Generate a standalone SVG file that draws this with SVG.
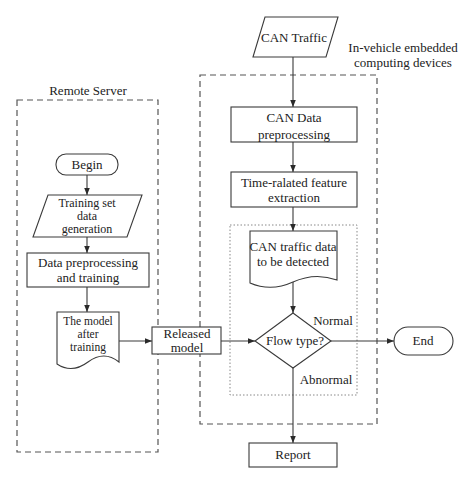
<svg xmlns="http://www.w3.org/2000/svg" width="474" height="484" viewBox="0 0 474 484">
<style>
text{font-family:"Liberation Serif","Times New Roman",serif;font-size:13px;fill:#222;text-anchor:middle}
.t{font-size:12px}
.s{font-size:11.5px}
.n{fill:#fff;stroke:#3a3a3a;stroke-width:1.1}
.c{fill:none;stroke:#3a3a3a;stroke-width:1.1}
.dash{fill:none;stroke:#555;stroke-width:1.2;stroke-dasharray:6,4}
.dot{fill:none;stroke:#888;stroke-width:1;stroke-dasharray:1.5,2}
</style>
<defs>
<marker id="ah" viewBox="0 0 8 8" refX="8" refY="4" markerWidth="7" markerHeight="7" markerUnits="userSpaceOnUse" orient="auto">
<path d="M0,0.8 L8,4 L0,7.2 Z" fill="#2a2a2a"/>
</marker>
</defs>
<rect width="474" height="484" fill="#fff"/>
<g id="containers">
<rect class="dash" x="17" y="100" width="141" height="352"/>
<text x="88" y="95">Remote Server</text>
<rect class="dash" x="200" y="75" width="177" height="349"/>
<text x="403" y="52">In-vehicle embedded</text>
<text x="403" y="67">computing devices</text>
<rect class="dot" x="230" y="225" width="127" height="170"/>
</g>
<g id="connectors">
<line class="c" x1="87" y1="175" x2="87" y2="195" marker-end="url(#ah)"/>
<line class="c" x1="87" y1="237" x2="87" y2="253" marker-end="url(#ah)"/>
<line class="c" x1="87" y1="287" x2="87" y2="312" marker-end="url(#ah)"/>
<line class="c" x1="115" y1="341" x2="152" y2="341" marker-end="url(#ah)"/>
<line class="c" x1="221" y1="341" x2="255" y2="341" marker-end="url(#ah)"/>
<line class="c" x1="293" y1="57" x2="293" y2="107" marker-end="url(#ah)"/>
<line class="c" x1="293" y1="142" x2="293" y2="172" marker-end="url(#ah)"/>
<line class="c" x1="293" y1="207" x2="293" y2="231" marker-end="url(#ah)"/>
<line class="c" x1="293" y1="282" x2="293" y2="313" marker-end="url(#ah)"/>
<line class="c" x1="331" y1="341" x2="394" y2="341" marker-end="url(#ah)"/>
<line class="c" x1="293" y1="368" x2="293" y2="443" marker-end="url(#ah)"/>
<text x="333" y="325">Normal</text>
<text x="326" y="384">Abnormal</text>
</g>
<g id="begin">
<rect class="n" x="56" y="154" width="62" height="21" rx="10"/>
<text x="87" y="169">Begin</text>
</g>
<g id="training-set">
<polygon class="n" points="48,195 142,195 127,237 33,237"/>
<text class="t" x="87" y="207">Training set</text>
<text class="t" x="87" y="220">data</text>
<text class="t" x="87" y="233">generation</text>
</g>
<g id="data-preprocessing">
<rect class="n" x="27" y="253" width="122" height="34"/>
<text x="88" y="267">Data preprocessing</text>
<text x="88" y="282">and training</text>
</g>
<g id="model-after-training">
<path class="n" d="M57,312 H119 V362 Q104,350 88,362 Q72,374 57,364 Z"/>
<text class="s" x="88" y="325">The model</text>
<text class="s" x="88" y="338">after</text>
<text class="s" x="88" y="351">training</text>
</g>
<g id="released-model">
<rect class="n" x="152" y="327" width="69" height="27"/>
<text x="187" y="338">Released</text>
<text x="187" y="352">model</text>
</g>
<g id="can-traffic">
<polygon class="n" points="265,17 338,17 326,57 253,57"/>
<text x="294" y="42">CAN Traffic</text>
</g>
<g id="can-data-preprocessing">
<rect class="n" x="231" y="107" width="126" height="35"/>
<text x="294" y="122">CAN Data</text>
<text x="294" y="139">preprocessing</text>
</g>
<g id="feature-extraction">
<rect class="n" x="231" y="172" width="126" height="35"/>
<text x="294" y="187">Time-ralated feature</text>
<text x="294" y="202">extraction</text>
</g>
<g id="can-traffic-data">
<path class="n" d="M250,231 H337 V280 Q315,272 293,282 Q271,292 250,283 Z"/>
<text x="293" y="251">CAN traffic data</text>
<text x="293" y="266">to be detected</text>
</g>
<g id="flow-type">
<polygon class="n" points="293,313 331,341 293,368 255,341"/>
<text x="295" y="345">Flow type?</text>
</g>
<g id="end">
<rect class="n" x="394" y="327" width="59" height="28" rx="14"/>
<text x="423" y="345">End</text>
</g>
<g id="report">
<rect class="n" x="249" y="443" width="88" height="24"/>
<text x="293" y="459">Report</text>
</g>
</svg>
